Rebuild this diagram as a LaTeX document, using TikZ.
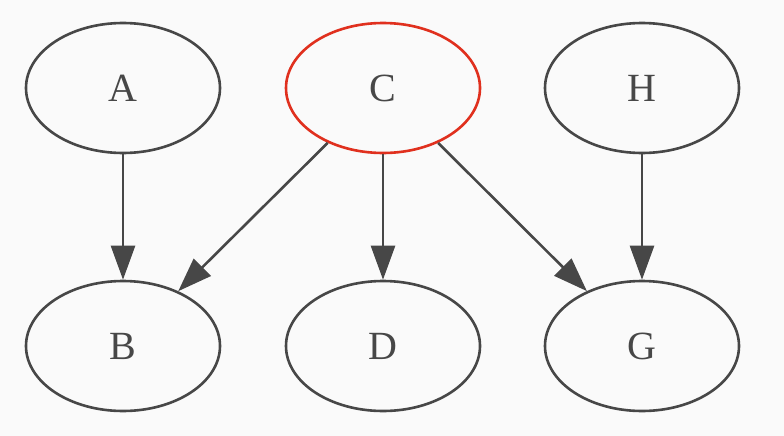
\documentclass[tikz,border=0pt]{standalone}
\usepackage{fontspec}
\setmainfont{Liberation Serif}
\usetikzlibrary{shapes.geometric,arrows.meta}
\definecolor{ink}{HTML}{474747}
\definecolor{redink}{HTML}{E0301E}
\begin{document}
\begin{tikzpicture}[x=1pt,y=-1pt,
  nd/.style={ellipse,draw=ink,line width=2.6pt,minimum width=194pt,minimum height=130pt,inner sep=0pt,text=ink,font=\fontsize{40}{40}\selectfont},
  ed/.style={draw=ink,line width=2.6pt,-{Triangle[length=34pt,width=24pt]}}]
\fill[white!98!black] (0,0) rectangle (784,436);
\useasboundingbox (0,0) rectangle (784,436);
\node[nd] (A) at (123,88) {A};
\node[nd,draw=redink] (C) at (383,88) {C};
\node[nd] (H) at (642,88) {H};
\node[nd] (B) at (123,346) {B};
\node[nd] (D) at (383,346) {D};
\node[nd] (G) at (642,346) {G};
\draw[ed] (A) -- (B);
\draw[ed] (C) -- (B);
\draw[ed] (C) -- (D);
\draw[ed] (C) -- (G);
\draw[ed] (H) -- (G);
\end{tikzpicture}
\end{document}
